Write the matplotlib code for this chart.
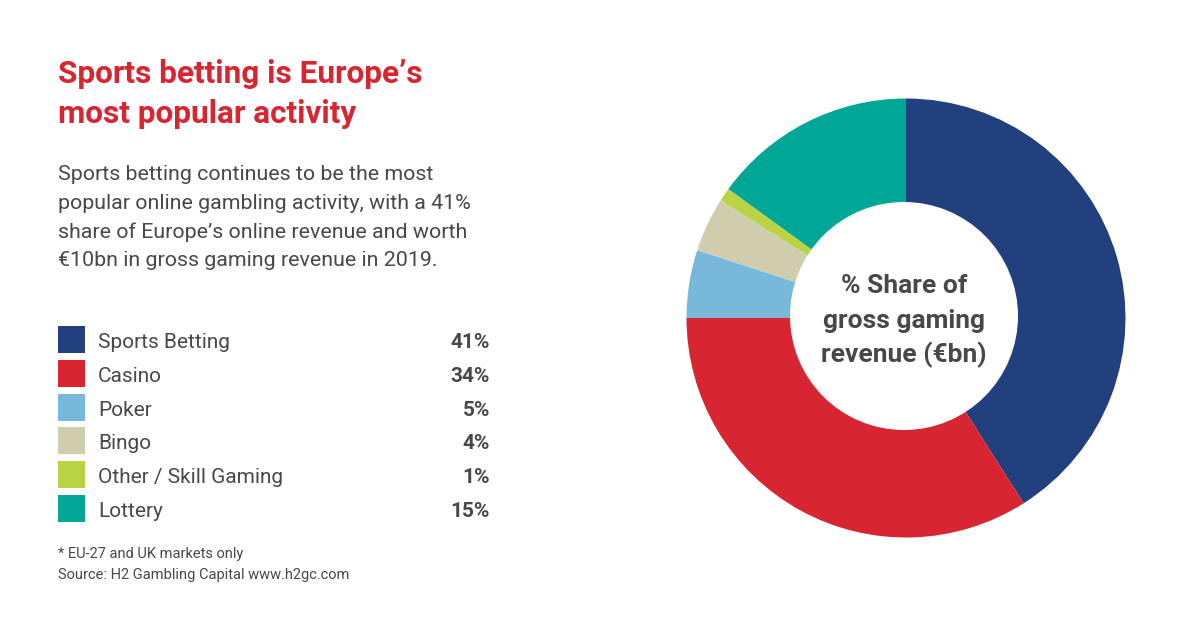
import matplotlib
matplotlib.use("Agg")
import matplotlib.pyplot as plt
from matplotlib.patches import Rectangle, Circle

categories = ["Sports Betting", "Casino", "Poker", "Bingo", "Other / Skill Gaming", "Lottery"]
shares = [41, 34, 5, 4, 1, 15]
colors = ["#223F7E", "#D72631", "#78B8DA", "#D0CDAE", "#B9D345", "#00A796"]
title_lines = ["Sports betting is Europe’s", "most popular activity"]
body_lines = ["Sports betting continues to be the most",
              "popular online gambling activity, with a 41%",
              "share of Europe’s online revenue and worth",
              "€10bn in gross gaming revenue in 2019."]
center_lines = ["% Share of", "gross gaming", "revenue (€bn)"]
notes = ["* EU-27 and UK markets only", "Source: H2 Gambling Capital www.h2gc.com"]

W, H = 1200, 624
plt.rcParams['font.family'] = ['Roboto', 'DejaVu Sans']
fig = plt.figure(figsize=(W/100, H/100), dpi=100, facecolor="white")
bg = fig.add_axes([0, 0, 1, 1])
bg.set_xlim(0, W); bg.set_ylim(H, 0); bg.axis("off")

DARK = "#484848"
for y, t in zip([83, 123], title_lines):
    bg.text(58, y, t, color="#D72631", fontsize=22.7, fontweight="bold", va="baseline", ha="left")
for y, t in zip([180, 209, 238, 266], body_lines):
    bg.text(58, y, t, color=DARK, fontsize=15.4, va="baseline", ha="left")
for i, (c, s, col) in enumerate(zip(categories, shares, colors)):
    y = 326 + i * 33.75
    bg.add_patch(Rectangle((58, y), 27, 27, facecolor=col, edgecolor="none"))
    bg.text(98, y + 22, c, color=DARK, fontsize=15, va="baseline", ha="left")
    bg.text(490, y + 22, f"{s}%", color=DARK, fontsize=15, fontweight="bold", va="baseline", ha="right")
for y, t in zip([558, 579], notes):
    bg.text(58, y, t, color=DARK, fontsize=10.55, va="baseline", ha="left")

R = 219.5
cx, cy = 906, 318
hole_x, hole_y, hole_r = 904, 316, 114
ax = fig.add_axes([(cx - R)/W, 1 - (cy + R)/H, 2*R/W, 2*R/H])
ax.pie(shares, colors=colors, startangle=90, counterclock=False, radius=1,
       wedgeprops=dict(linewidth=0))
ax.set_xlim(-1, 1); ax.set_ylim(-1, 1)
ax.add_patch(Circle(((hole_x - cx)/R, (cy - hole_y)/R), hole_r/R, facecolor="white", edgecolor="none", zorder=5))
for y, t in zip([293, 328, 362], center_lines):
    ax.annotate(t, xy=(hole_x, y), xycoords=bg.transData, color=DARK, fontsize=19, fontweight="bold",
                va="baseline", ha="center", zorder=6)
fig.savefig("out.png", dpi=100, facecolor="white")
